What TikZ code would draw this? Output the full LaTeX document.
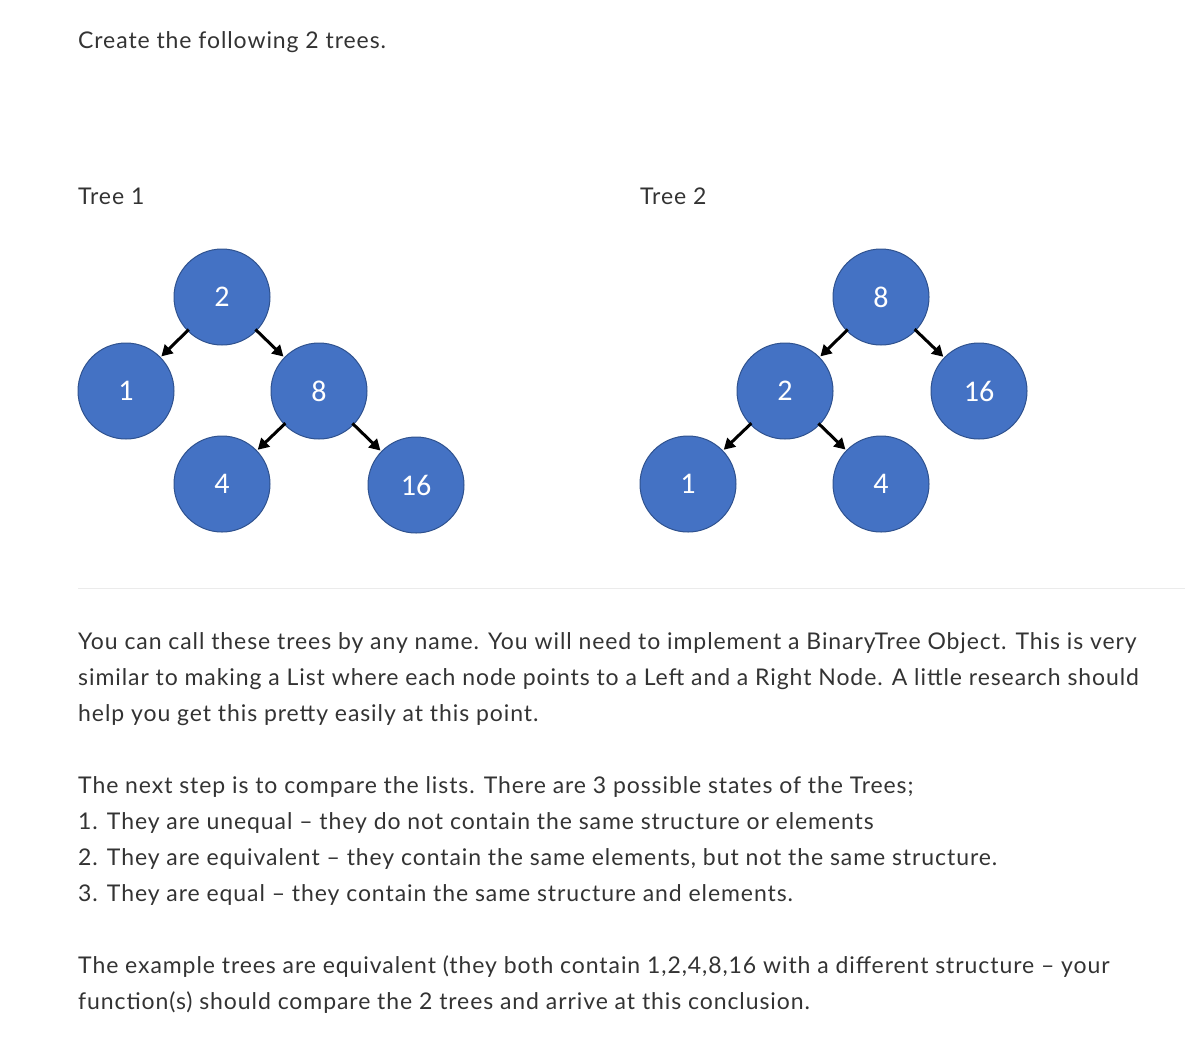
\documentclass[tikz,border=0pt]{standalone}
\usepackage{fontspec}
\usetikzlibrary{arrows.meta}
\setmainfont[LetterSpace=4]{Lato}
\newfontfamily\calib{Carlito}
\definecolor{nodeblue}{HTML}{4472C4}
\definecolor{nodeedge}{HTML}{2F528F}
\definecolor{txt}{HTML}{333333}
\tikzset{
 tn/.style={circle,fill=nodeblue,draw=nodeedge,line width=1pt,minimum size=96pt,inner sep=0pt,text=white,font=\calib\fontsize{30}{30}\selectfont},
 ar/.style={-{Triangle[length=11pt,width=12pt]},line width=3pt,shorten >=1pt,shorten <=-2pt},
 ln/.style={anchor=west,text=txt,font=\fontsize{23}{23}\selectfont,inner sep=0pt}
}
\begin{document}
\begin{tikzpicture}[x=1pt,y=-1pt]
\useasboundingbox (0,0) rectangle (1185,1053);
\node[ln] (t0) at (78,42) {Create the following 2 trees.};
\node[ln] (h1) at (78,196) {Tree 1};
\node[ln] (h2) at (640,196) {Tree 2};
\node[tn] (a2) at (222,297) {2};
\node[tn] (a1) at (126,391) {1};
\node[tn] (a8) at (319,391) {8};
\node[tn] (a4) at (222,484) {4};
\node[tn] (a16) at (416,485) {16};
\draw[ar] (a2) -- (a1);
\draw[ar] (a2) -- (a8);
\draw[ar] (a8) -- (a4);
\draw[ar] (a8) -- (a16);
\node[tn] (b8) at (881,297) {8};
\node[tn] (b2) at (785,391) {2};
\node[tn] (b16) at (979,391) {16};
\node[tn] (b1) at (688,484) {1};
\node[tn] (b4) at (881,484) {4};
\draw[ar] (b8) -- (b2);
\draw[ar] (b8) -- (b16);
\draw[ar] (b2) -- (b1);
\draw[ar] (b2) -- (b4);
\coordinate (r1) at (78,588); \coordinate (r2) at (1185,588);
\draw[black!8,line width=1pt] (r1) -- (r2);
\node[ln] (p1) at (78,643) {You can call these trees by any name. You will need to implement a BinaryTree Object. This is very};
\node[ln] (p2) at (78,679) {similar to making a List where each node points to a Left and a Right Node. A little research should};
\node[ln] (p3) at (78,715) {help you get this pretty easily at this point.};
\node[ln] (q1) at (78,787) {The next step is to compare the lists. There are 3 possible states of the Trees;};
\node[ln] (q2) at (78,823) {1. They are unequal – they do not contain the same structure or elements};
\node[ln] (q3) at (78,859) {2. They are equivalent – they contain the same elements, but not the same structure.};
\node[ln] (q4) at (78,895) {3. They are equal – they contain the same structure and elements.};
\node[ln] (s1) at (78,967) {The example trees are equivalent (they both contain 1,2,4,8,16 with a different structure – your};
\node[ln] (s2) at (78,1003) {function(s) should compare the 2 trees and arrive at this conclusion.};
\end{tikzpicture}
\end{document}
